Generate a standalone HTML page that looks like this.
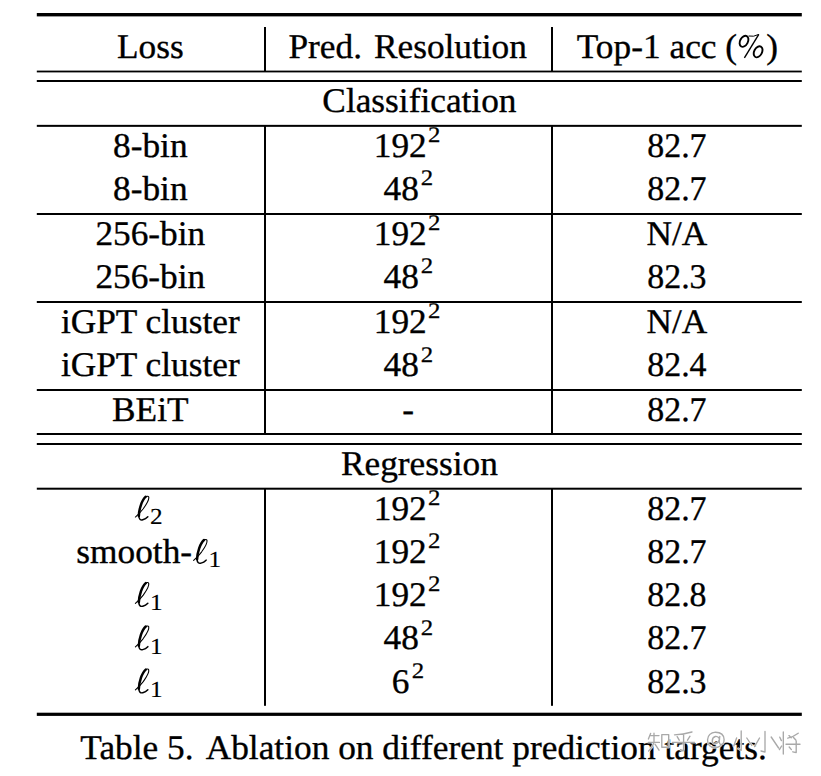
<!DOCTYPE html>
<html><head><meta charset="utf-8"><style>
html,body{margin:0;padding:0;background:#fff;width:821px;height:776px;overflow:hidden}
svg{display:block}
text{text-rendering:geometricPrecision;font-family:"Liberation Serif",serif;font-size:35.3px;fill:#000;stroke:#000;stroke-width:0.35px;text-anchor:middle}
text.sup{font-size:22.2px;stroke-width:0.25px}
text.sub{font-size:23.0px;stroke-width:0.12px}
rect{fill:#000}
.pct ellipse,.pct path{fill:none;stroke:#000}
.ell path{fill:none;stroke:#000;stroke-linecap:round;stroke-linejoin:round}
.wmo{fill:none;stroke:#fff;stroke-width:2.4;stroke-linecap:round;stroke-linejoin:round;opacity:0.8}
.wm{fill:none;stroke:#a9a9a9;stroke-width:1.35;stroke-linecap:round;stroke-linejoin:round}
</style></head><body>
<svg width="821" height="776" viewBox="0 0 821 776">
<rect x="36.8" y="13.0" width="765" height="3.4"/>
<rect x="36.8" y="70.6" width="765" height="1.8"/>
<rect x="36.8" y="80.0" width="765" height="2.0"/>
<rect x="36.8" y="124.85" width="765" height="2.0"/>
<rect x="36.8" y="213.0" width="765" height="2.0"/>
<rect x="36.8" y="301.0" width="765" height="2.0"/>
<rect x="36.8" y="389.0" width="765" height="2.0"/>
<rect x="36.8" y="433.0" width="765" height="2.0"/>
<rect x="36.8" y="443.0" width="765" height="2.0"/>
<rect x="36.8" y="487.7" width="765" height="2.0"/>
<rect x="36.8" y="712.7" width="765" height="3.2"/>
<rect x="264.0" y="27.0" width="2" height="44.0"/>
<rect x="264.0" y="125.5" width="2" height="308.5"/>
<rect x="264.0" y="488.5" width="2" height="217.3"/>
<rect x="551.0" y="27.0" width="2" height="44.0"/>
<rect x="551.0" y="125.5" width="2" height="308.5"/>
<rect x="551.0" y="488.5" width="2" height="217.3"/>
<text transform="translate(150.3,57.9) scale(1.0,0.98)">Loss</text>
<text transform="translate(288.48,57.9) scale(1.0,0.98)" style="text-anchor:start">Pred.</text>
<text transform="translate(526.93,57.9) scale(1.0,0.98)" style="text-anchor:end">Resolution</text>
<text transform="translate(576.66,57.9) scale(1.0,0.98)" style="text-anchor:start" textLength="160.48" lengthAdjust="spacing">Top-1 acc (</text>
<text transform="translate(766.26,57.9) scale(1.0,0.98)" style="text-anchor:start">)</text>
<g class="pct"><ellipse cx="744.0" cy="41.3" rx="3.9" ry="5.9" transform="rotate(28 744.0 41.3)" stroke-width="1.9"/><ellipse cx="758.1" cy="51.8" rx="3.9" ry="5.9" transform="rotate(28 758.1 51.8)" stroke-width="1.9"/><path d="M758.8,34.4 L744.4,57.9" stroke-width="1.4"/><path d="M748.6,36.0 Q753.5,37.2 758.8,34.4" stroke-width="1.0"/></g>
<text transform="translate(419.4,111.7) scale(1.0,0.98)">Classification</text>
<text transform="translate(419.4,474.6) scale(1.0,0.98)">Regression</text>
<text transform="translate(150.3,156.85) scale(1.0,0.98)">8-bin</text>
<text transform="translate(373.76,156.85) scale(1.0,0.98)" style="text-anchor:start">192</text>
<text transform="translate(428.07,142.1) scale(1.12,1)" class="sup" style="text-anchor:start">2</text>
<text transform="translate(676.9,156.85) scale(0.96,0.98)">82.7</text>
<text transform="translate(150.3,200.0) scale(1.0,0.98)">8-bin</text>
<text transform="translate(383.49,200.0) scale(1.0,0.98)" style="text-anchor:start">48</text>
<text transform="translate(420.76,185.25) scale(1.12,1)" class="sup" style="text-anchor:start">2</text>
<text transform="translate(676.9,200.0) scale(0.96,0.98)">82.7</text>
<text transform="translate(150.3,244.8) scale(1.0,0.98)">256-bin</text>
<text transform="translate(373.76,244.8) scale(1.0,0.98)" style="text-anchor:start">192</text>
<text transform="translate(428.07,230.05) scale(1.12,1)" class="sup" style="text-anchor:start">2</text>
<text transform="translate(676.9,244.8) scale(1.0,0.98)">N/A</text>
<text transform="translate(150.3,288.1) scale(1.0,0.98)">256-bin</text>
<text transform="translate(383.49,288.1) scale(1.0,0.98)" style="text-anchor:start">48</text>
<text transform="translate(420.76,273.35) scale(1.12,1)" class="sup" style="text-anchor:start">2</text>
<text transform="translate(676.9,288.1) scale(0.96,0.98)">82.3</text>
<text transform="translate(150.3,332.9) scale(1.0,0.98)">iGPT cluster</text>
<text transform="translate(373.76,332.9) scale(1.0,0.98)" style="text-anchor:start">192</text>
<text transform="translate(428.07,318.15) scale(1.12,1)" class="sup" style="text-anchor:start">2</text>
<text transform="translate(676.9,332.9) scale(1.0,0.98)">N/A</text>
<text transform="translate(150.3,376.4) scale(1.0,0.98)">iGPT cluster</text>
<text transform="translate(383.49,376.4) scale(1.0,0.98)" style="text-anchor:start">48</text>
<text transform="translate(420.76,361.65) scale(1.12,1)" class="sup" style="text-anchor:start">2</text>
<text transform="translate(676.9,376.4) scale(0.96,0.98)">82.4</text>
<text transform="translate(150.3,421.0) scale(1.0,0.98)">BEiT</text>
<text transform="translate(408.0,421.0) scale(1.0,0.98)">-</text>
<text transform="translate(676.9,421.0) scale(0.96,0.98)">82.7</text>
<g transform="translate(135.05,519.9) scale(1,0.96)" class="ell"><path d="M0.35,-2.98 Q4.3,-6.5 8.2,-11.6 Q14.4,-20.5 13.7,-23.8 Q12.9,-25.4 10.7,-24.2" stroke-width="1.1"/><path d="M10.7,-24.2 C7.0,-21.1 3.8,-10.8 3.8,-4.1" stroke-width="2.5"/><path d="M3.8,-4.1 C3.8,-0.4 5.8,0.5 7.7,-0.1 Q10.7,-1.0 12.8,-3.2" stroke-width="1.5"/></g>
<text transform="translate(150.09,523.7) scale(1.1,1)" class="sub" style="text-anchor:start">2</text>
<text transform="translate(373.76,519.6) scale(1.0,0.98)" style="text-anchor:start">192</text>
<text transform="translate(428.07,504.85) scale(1.12,1)" class="sup" style="text-anchor:start">2</text>
<text transform="translate(676.9,519.6) scale(0.96,0.98)">82.7</text>
<text transform="translate(76.35,562.9) scale(1.0,0.98)" style="text-anchor:start">smooth-</text>
<g transform="translate(193.3,563.2) scale(1,0.96)" class="ell"><path d="M0.35,-2.98 Q4.3,-6.5 8.2,-11.6 Q14.4,-20.5 13.7,-23.8 Q12.9,-25.4 10.7,-24.2" stroke-width="1.1"/><path d="M10.7,-24.2 C7.0,-21.1 3.8,-10.8 3.8,-4.1" stroke-width="2.5"/><path d="M3.8,-4.1 C3.8,-0.4 5.8,0.5 7.7,-0.1 Q10.7,-1.0 12.8,-3.2" stroke-width="1.5"/></g>
<text transform="translate(208.38,567.0) scale(1.1,1)" class="sub" style="text-anchor:start">1</text>
<text transform="translate(373.76,562.9) scale(1.0,0.98)" style="text-anchor:start">192</text>
<text transform="translate(428.07,548.15) scale(1.12,1)" class="sup" style="text-anchor:start">2</text>
<text transform="translate(676.9,562.9) scale(0.96,0.98)">82.7</text>
<g transform="translate(135.05,606.3) scale(1,0.96)" class="ell"><path d="M0.35,-2.98 Q4.3,-6.5 8.2,-11.6 Q14.4,-20.5 13.7,-23.8 Q12.9,-25.4 10.7,-24.2" stroke-width="1.1"/><path d="M10.7,-24.2 C7.0,-21.1 3.8,-10.8 3.8,-4.1" stroke-width="2.5"/><path d="M3.8,-4.1 C3.8,-0.4 5.8,0.5 7.7,-0.1 Q10.7,-1.0 12.8,-3.2" stroke-width="1.5"/></g>
<text transform="translate(149.88,610.1) scale(1.1,1)" class="sub" style="text-anchor:start">1</text>
<text transform="translate(373.76,606.0) scale(1.0,0.98)" style="text-anchor:start">192</text>
<text transform="translate(428.07,591.25) scale(1.12,1)" class="sup" style="text-anchor:start">2</text>
<text transform="translate(676.9,606.0) scale(0.96,0.98)">82.8</text>
<g transform="translate(135.05,649.7) scale(1,0.96)" class="ell"><path d="M0.35,-2.98 Q4.3,-6.5 8.2,-11.6 Q14.4,-20.5 13.7,-23.8 Q12.9,-25.4 10.7,-24.2" stroke-width="1.1"/><path d="M10.7,-24.2 C7.0,-21.1 3.8,-10.8 3.8,-4.1" stroke-width="2.5"/><path d="M3.8,-4.1 C3.8,-0.4 5.8,0.5 7.7,-0.1 Q10.7,-1.0 12.8,-3.2" stroke-width="1.5"/></g>
<text transform="translate(149.88,653.5) scale(1.1,1)" class="sub" style="text-anchor:start">1</text>
<text transform="translate(383.49,649.4) scale(1.0,0.98)" style="text-anchor:start">48</text>
<text transform="translate(420.76,634.65) scale(1.12,1)" class="sup" style="text-anchor:start">2</text>
<text transform="translate(676.9,649.4) scale(0.96,0.98)">82.7</text>
<g transform="translate(135.05,692.8) scale(1,0.96)" class="ell"><path d="M0.35,-2.98 Q4.3,-6.5 8.2,-11.6 Q14.4,-20.5 13.7,-23.8 Q12.9,-25.4 10.7,-24.2" stroke-width="1.1"/><path d="M10.7,-24.2 C7.0,-21.1 3.8,-10.8 3.8,-4.1" stroke-width="2.5"/><path d="M3.8,-4.1 C3.8,-0.4 5.8,0.5 7.7,-0.1 Q10.7,-1.0 12.8,-3.2" stroke-width="1.5"/></g>
<text transform="translate(149.88,696.6) scale(1.1,1)" class="sub" style="text-anchor:start">1</text>
<text transform="translate(391.76,692.5) scale(1.0,0.98)" style="text-anchor:start">6</text>
<text transform="translate(411.66,677.75) scale(1.12,1)" class="sup" style="text-anchor:start">2</text>
<text transform="translate(676.9,692.5) scale(0.96,0.98)">82.3</text>
<text transform="translate(80.36,759.0) scale(1.0,0.98)" style="text-anchor:start">Table 5.</text>
<text transform="translate(205.66,759.0) scale(1.0,0.98)" style="text-anchor:start" textLength="561.17" lengthAdjust="spacing">Ablation on different prediction targets.</text>
<path d="M650.6,733.4 L648.4,739 M649.6,735.6 L659,735.6 M648.4,742.4 L659.4,742.4 M654,733.2 L654,742.4 Q652.6,747.5 648.6,751 M655,744.2 L659,750.2 M661.8,734.6 L668.7,734.6 L668.7,747.2 L661.8,747.2 Z M692,732 Q683,734.4 674.5,734.8 M677.2,736.6 L679.2,740.2 M690,736.2 L687.5,740.2 M672.4,742.4 L694.6,742.4 M683.6,734.8 L683.6,750 Q683.4,751.3 680.5,749.6 M720.5,745.8 Q716,748.5 711.5,747 Q707.3,744.5 707.6,739.5 Q708.2,733 715.5,732.2 Q723.8,732.2 724.1,739.5 Q724,745 720.5,744.3 Q718.6,743.7 719.8,736.5 M719.6,739 Q718,736 715.3,736.5 Q712,737.5 712.3,741.5 Q713,744.5 716,743.5 Q718.8,742.5 719.6,739 M741.2,731 L741.2,750.3 L738.3,748.6 M736.6,738 L733.8,746 M746.8,738 L751.8,745.5 M765,731.5 L765,752 L761,751 M759.5,738 L754.6,746.6 M771.2,737 L778.6,748 M783.3,732 L783.3,754 M779.8,737.2 L781.4,740.6 M781.6,746 L779.4,749.6 M798.2,733.2 Q793,737 787.8,738.2 M789,735.6 L791.2,737.8 M793.5,737.5 L795.8,740 M786,744.2 L800,744.2 M796.2,740.8 L796.2,752.6 L792.8,751.8 M789.2,747 L791.4,749.6" class="wmo"/>
<path d="M650.6,733.4 L648.4,739 M649.6,735.6 L659,735.6 M648.4,742.4 L659.4,742.4 M654,733.2 L654,742.4 Q652.6,747.5 648.6,751 M655,744.2 L659,750.2 M661.8,734.6 L668.7,734.6 L668.7,747.2 L661.8,747.2 Z M692,732 Q683,734.4 674.5,734.8 M677.2,736.6 L679.2,740.2 M690,736.2 L687.5,740.2 M672.4,742.4 L694.6,742.4 M683.6,734.8 L683.6,750 Q683.4,751.3 680.5,749.6 M720.5,745.8 Q716,748.5 711.5,747 Q707.3,744.5 707.6,739.5 Q708.2,733 715.5,732.2 Q723.8,732.2 724.1,739.5 Q724,745 720.5,744.3 Q718.6,743.7 719.8,736.5 M719.6,739 Q718,736 715.3,736.5 Q712,737.5 712.3,741.5 Q713,744.5 716,743.5 Q718.8,742.5 719.6,739 M741.2,731 L741.2,750.3 L738.3,748.6 M736.6,738 L733.8,746 M746.8,738 L751.8,745.5 M765,731.5 L765,752 L761,751 M759.5,738 L754.6,746.6 M771.2,737 L778.6,748 M783.3,732 L783.3,754 M779.8,737.2 L781.4,740.6 M781.6,746 L779.4,749.6 M798.2,733.2 Q793,737 787.8,738.2 M789,735.6 L791.2,737.8 M793.5,737.5 L795.8,740 M786,744.2 L800,744.2 M796.2,740.8 L796.2,752.6 L792.8,751.8 M789.2,747 L791.4,749.6" class="wm"/>
</svg>
</body></html>
